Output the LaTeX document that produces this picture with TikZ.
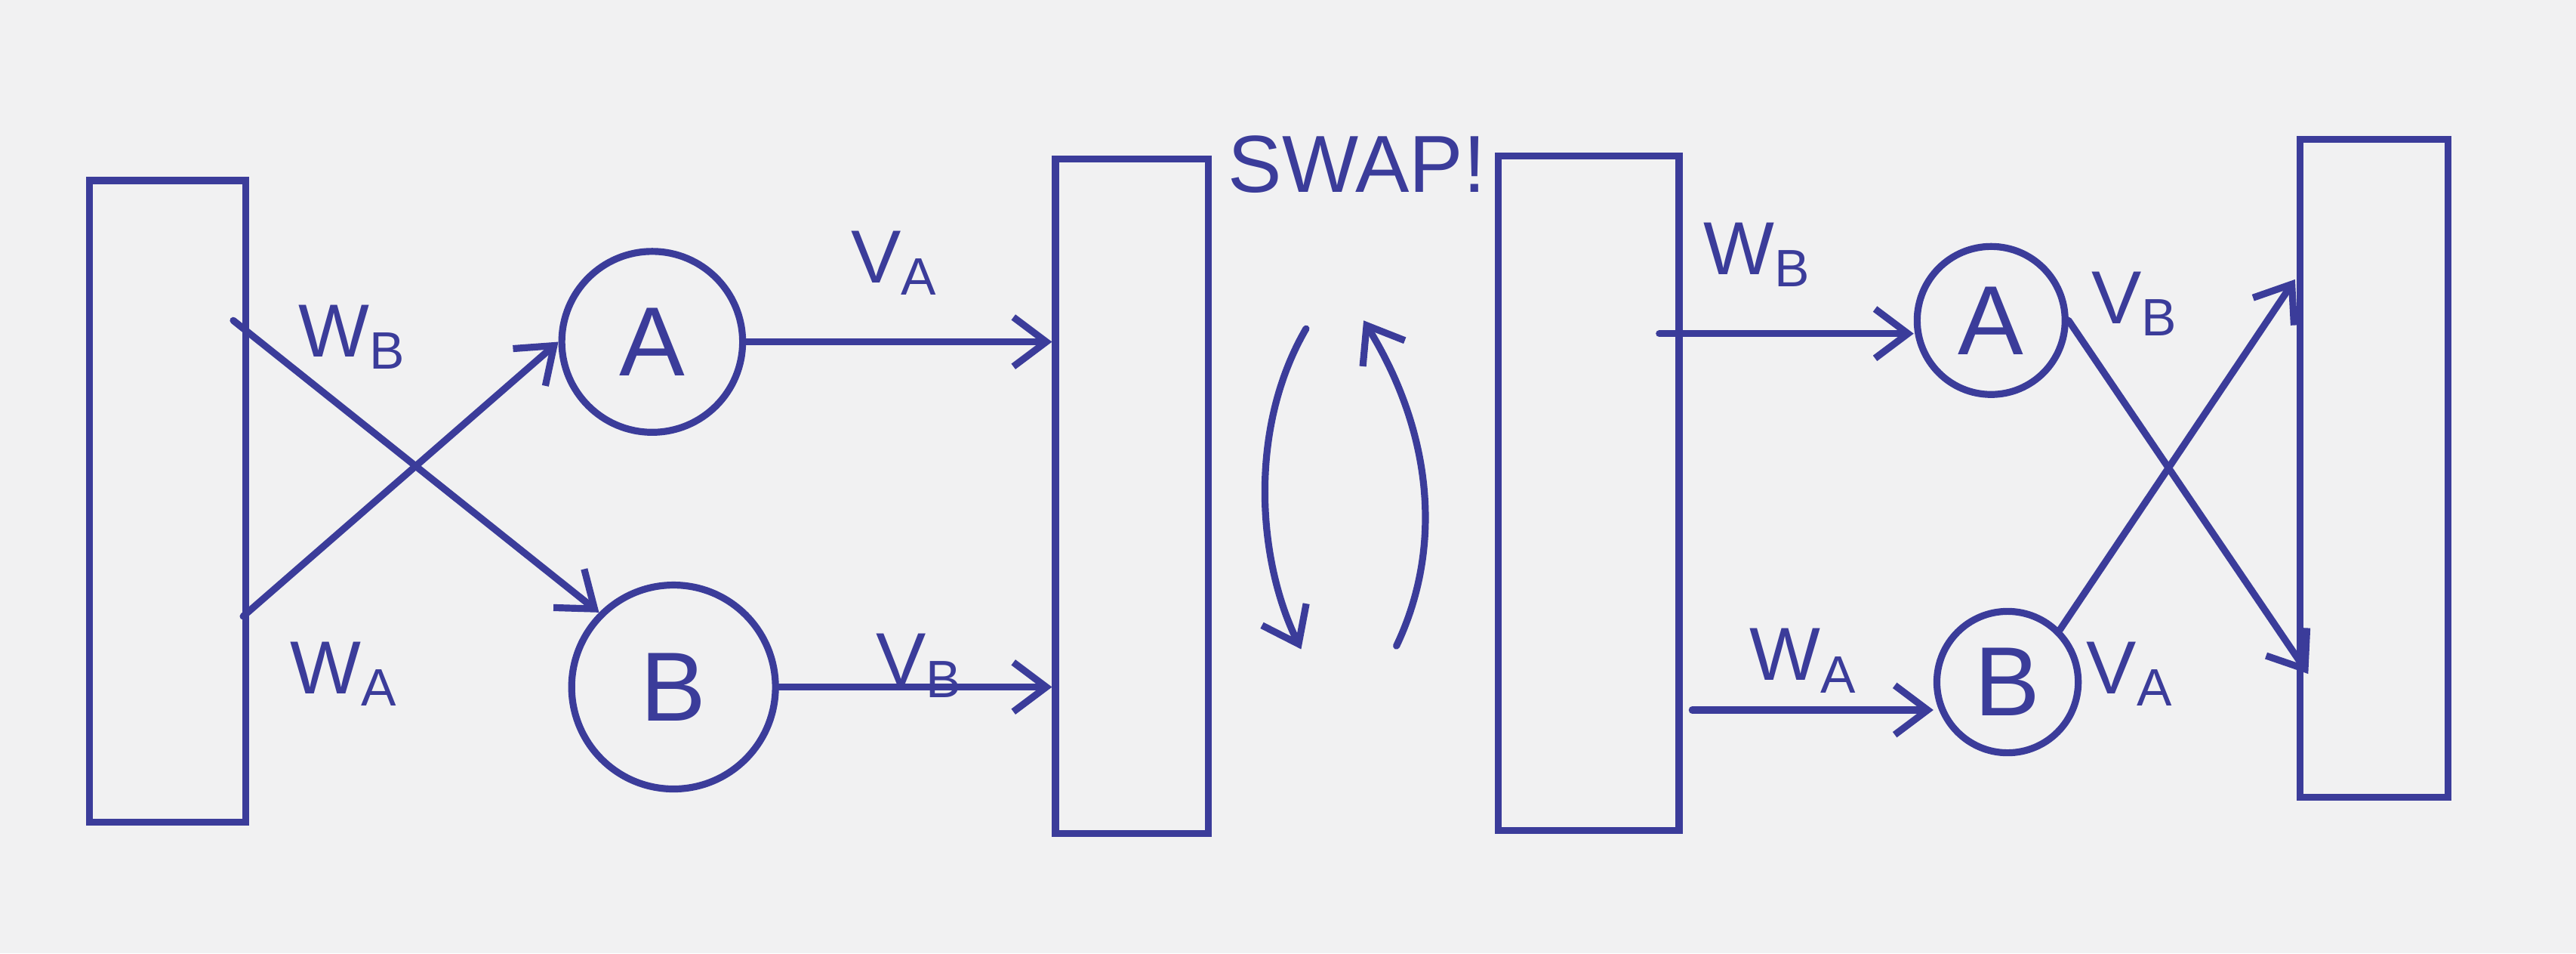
\documentclass[tikz,border=0pt]{standalone}
\usepackage{fontspec}
\setmainfont{Liberation Sans}
\usetikzlibrary{arrows.meta}
\definecolor{ink}{HTML}{3B3C9A}
\definecolor{paper}{HTML}{F1F1F2}
\tikzset{
  ln/.style={draw=ink,line width=1.2pt,line cap=round},
  box/.style={ln,rectangle,inner sep=0pt},
  circ/.style={ln,circle,inner sep=0pt,font=\fontsize{17}{17}\selectfont,text=ink},
  arr/.style={ln,-{Straight Barb[length=2mm,width=3mm]}},
  lbl/.style={text=ink,font=\fontsize{13}{13}\selectfont},
}
\begin{document}
\begin{tikzpicture}[x=0.01cm,y=-0.01cm]
\fill[paper] (0,0) rectangle (1568,580);
\useasboundingbox (0,0) rectangle (1568,580);
% boxes
\node[box,minimum width=0.95cm,minimum height=3.9cm] (r1) at (102,305) {};
\node[box,minimum width=0.93cm,minimum height=4.1cm] (r2) at (689,302) {};
\node[box,minimum width=1.1cm,minimum height=4.1cm] (r3) at (967,300) {};
\node[box,minimum width=0.9cm,minimum height=4.0cm] (r4) at (1445,285) {};
% circles
\node[circ,minimum size=1.1cm] (a1) at (397,208) {A};
\node[circ,minimum size=1.24cm] (b1) at (410,418) {B};
\node[circ,minimum size=0.9cm] (a2) at (1212,195) {A};
\node[circ,minimum size=0.86cm] (b2) at (1222,415) {B};
% anchor points
\coordinate (s1) at (142,195);
\coordinate (s2) at (148,375);
\coordinate (t1) at (1010,203);
\coordinate (t2) at (1030,432);
\coordinate (e1) at (1405,410);
\coordinate (e2) at (1397,170);
% arrows
\draw[arr] (s1) -- (b1.north west);
\draw[arr] (s2) -- (a1.west);
\draw[arr] (a1.east) -- (r2.west |- a1.east);
\draw[arr] (b1.east) -- (r2.west |- b1.east);
\draw[arr] (t1) -- (a2.west |- t1);
\draw[arr] (t2) -- (b2.west |- t2);
\draw[arr] (a2.east) -- (e1);
\draw[arr] (b2.north east) -- (e2);
% labels
\node[lbl] (l1) at (215,205) {W\textsubscript{B}};
\node[lbl] (l2) at (210,410) {W\textsubscript{A}};
\node[lbl] (l3) at (545,160) {V\textsubscript{A}};
\node[lbl] (l4) at (560,405) {V\textsubscript{B}};
\node[lbl] (l5) at (1070,155) {W\textsubscript{B}};
\node[lbl] (l6) at (1098,402) {W\textsubscript{A}};
\node[lbl] (l7) at (1300,185) {V\textsubscript{B}};
\node[lbl] (l8) at (1297,410) {V\textsubscript{A}};
\node[lbl,font=\fontsize{14}{14}\selectfont] (sw) at (826,100) {SWAP!};
% swap arrows
\coordinate (c1) at (795,200);
\coordinate (c2) at (792,395);
\coordinate (c3) at (850,393);
\coordinate (c4) at (830,195);
\draw[arr] (c1) .. controls (760,260) and (765,340) .. (c2);
\draw[arr] (c3) .. controls (880,330) and (870,260) .. (c4);
\end{tikzpicture}
\end{document}
